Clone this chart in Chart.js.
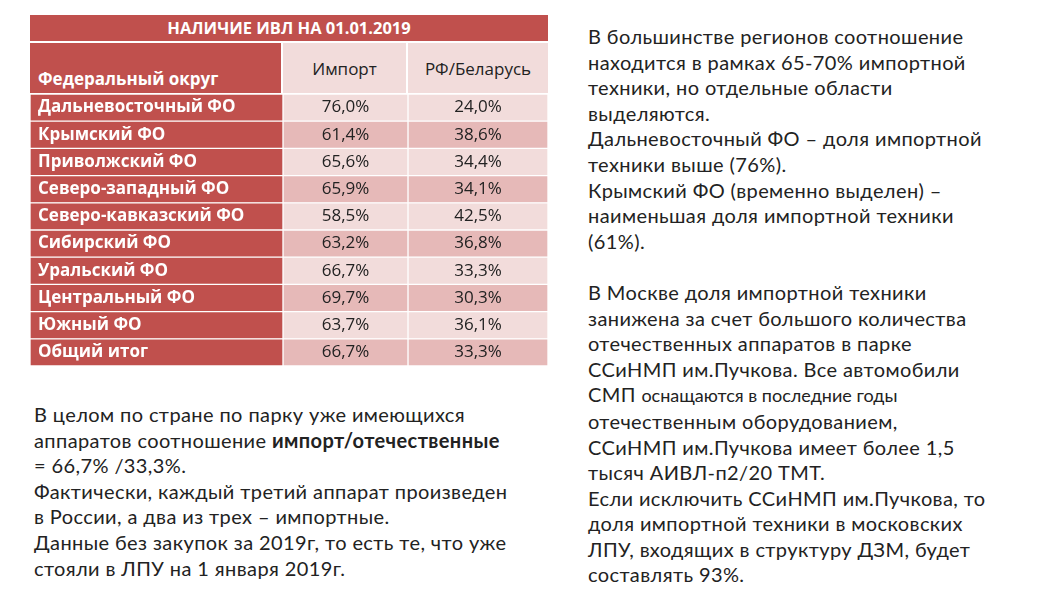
<!DOCTYPE html>
<html><head><meta charset="utf-8">
<script src="https://cdn.jsdelivr.net/npm/chart.js@4/dist/chart.umd.min.js"></script>
<style>
body{margin:0;width:1053px;height:602px;background:#fff;position:relative;font-family:Lato,"Open Sans",sans-serif;overflow:hidden}
.t{position:absolute;color:#222;font-size:20px;line-height:25.6px;font-family:Lato,sans-serif;font-weight:400;letter-spacing:0.4px;white-space:nowrap}
#title{position:absolute;left:30px;top:15px;width:518px;height:26px;background:#c0504d;color:#fff;font:bold 16.5px "Open Sans",sans-serif;text-align:center;line-height:26px}
#hdr{position:absolute;left:30px;top:43px;width:518px;height:50px;display:flex;font:17px "Open Sans",sans-serif}
#wrap{position:absolute;left:30px;top:94px;width:518px;height:272px}
</style></head><body>
<div id="title">НАЛИЧИЕ ИВЛ НА 01.01.2019</div>
<div id="hdr">
<div style="width:251px;background:#c0504d;color:#fff;font-weight:bold;padding:24px 0 0 8px;box-sizing:border-box;margin-right:2px">Федеральный округ</div>
<div style="width:123px;background:#f2dcdb;color:#222;text-align:center;padding-top:14px;box-sizing:border-box;margin-right:2px">Импорт</div>
<div style="width:140px;background:#f2dcdb;color:#222;text-align:center;padding-top:14px;box-sizing:border-box">РФ/Беларусь</div>
</div>
<div id="wrap"><canvas id="c"></canvas></div>
<div class="t" style="left:34px;top:402px">В целом по стране по парку уже имеющихся<br>аппаратов соотношение <b style="font-weight:700">импорт/отечественные</b><br>= 66,7% /33,3%.<br>Фактически, каждый третий аппарат произведен<br>в России, а два из трех – импортные.<br>Данные без закупок за 2019г, то есть те, что уже<br>стояли в ЛПУ на 1 января 2019г.</div>
<div class="t" style="left:588px;top:24px">В большинстве регионов соотношение<br>находится в рамках 65-70% импортной<br>техники, но отдельные области<br>выделяются.<br>Дальневосточный ФО – доля импортной<br>техники выше (76%).<br>Крымский ФО (временно выделен) –<br>наименьшая доля импортной техники<br>(61%).<br><br>В Москве доля импортной техники<br>занижена за счет большого количества<br>отечественных аппаратов в парке<br>ССиНМП им.Пучкова. Все автомобили<br>СМП <span style="font-size:18px;letter-spacing:0">оснащаются в последние годы</span><br>отечественным оборудованием,<br>ССиНМП им.Пучкова имеет более 1,5<br>тысяч АИВЛ-п2/20 ТМТ.<br>Если исключить ССиНМП им.Пучкова, то<br>доля импортной техники в московских<br>ЛПУ, входящих в структуру ДЗМ, будет<br>составлять 93%.</div>
<script>
const regions=["Дальневосточный ФО","Крымский ФО","Приволжский ФО","Северо-западный ФО","Северо-кавказский ФО","Сибирский ФО","Уральский ФО","Центральный ФО","Южный ФО","Общий итог"];
const importVals=["76,0%","61,4%","65,6%","65,9%","58,5%","63,2%","66,7%","69,7%","63,7%","66,7%"];
const domesticVals=["24,0%","38,6%","34,4%","34,1%","42,5%","36,8%","33,3%","30,3%","36,1%","33,3%"];
const colWidths=[253,125,140];
const light="#f2dcdb",pink="#e6b9b8",red="#c0504d";
const alt=regions.map((_,i)=>i%2?pink:light);
const texts=[regions,importVals,domesticVals];
const cellText={id:"cellText",afterDatasetsDraw(ch){const g=ch.ctx;g.save();
 ch.data.datasets.forEach((ds,di)=>{ch.getDatasetMeta(di).data.forEach((b,i)=>{
  const l=Math.min(b.x,b.base),r=Math.max(b.x,b.base);
  g.textBaseline="middle";
  if(di===0){g.fillStyle="#fff";g.font="bold 17px 'Open Sans'";g.textAlign="left";g.fillText(texts[0][i],l+8,b.y);}
  else{g.fillStyle="#222";g.font="17px 'Open Sans'";g.textAlign="center";g.fillText(texts[di][i],(l+r)/2,b.y);}
 });});g.restore();}};
new Chart(document.getElementById("c"),{type:"bar",
 data:{labels:regions,datasets:[
  {data:regions.map(()=>colWidths[0]),backgroundColor:red},
  {data:regions.map(()=>colWidths[1]),backgroundColor:alt},
  {data:regions.map(()=>colWidths[2]),backgroundColor:alt}].map(d=>Object.assign(d,{borderColor:"#fff",borderWidth:1,categoryPercentage:1,barPercentage:1,borderSkipped:false}))},
 options:{indexAxis:"y",responsive:true,maintainAspectRatio:false,animation:false,layout:{padding:0},
  plugins:{legend:{display:false},tooltip:{enabled:false}},
  scales:{x:{stacked:true,display:false,min:0,max:518},y:{stacked:true,display:false}}},
 plugins:[cellText]});
</script></body></html>
